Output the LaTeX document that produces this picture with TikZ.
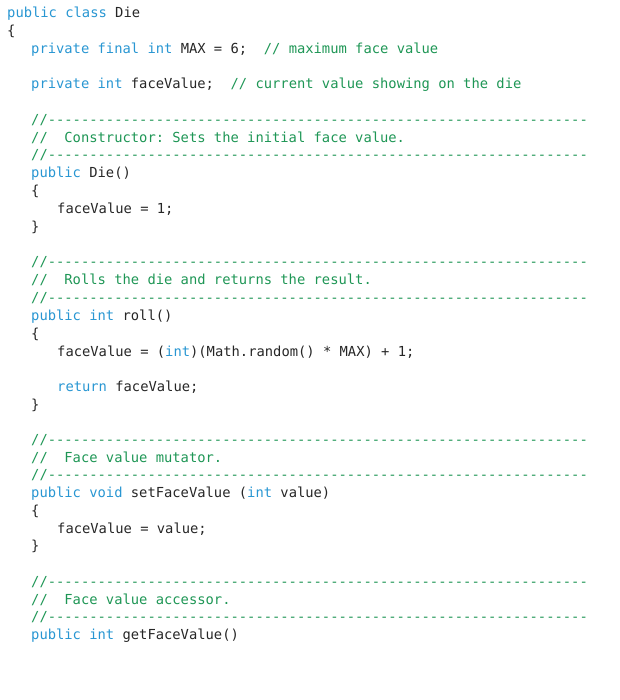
\documentclass[tikz,border=0pt]{standalone}
\usepackage{fontspec}
\setmonofont{DejaVu Sans Mono}
\definecolor{kw}{RGB}{40,150,210}
\definecolor{cm}{RGB}{30,150,85}
\newcommand{\K}[1]{\textcolor{kw}{#1}}
\newcommand{\Cm}[1]{\textcolor{cm}{#1}}
\newcommand{\Dsh}{\Cm{//-----------------------------------------------------------------}}
\begin{document}
\begin{tikzpicture}[x=1pt,y=-1pt,
  ln/.style={anchor=base west,inner sep=0pt,font=\ttfamily\fontsize{13.8}{14}\selectfont,text=black!85}]
\useasboundingbox (0,0) rectangle (619,700);
\def\b{4.5}
\node[ln] (l1) at (7,13+\b) {\K{public class} Die};
\node[ln] (l2) at (7,31+\b) {\{};
\node[ln] (l3) at (31,49+\b) {\K{private final int} MAX = 6;~~\Cm{// maximum face value}};
\node[ln] (l4) at (31,84+\b) {\K{private int} faceValue;~~\Cm{// current value showing on the die}};
\node[ln] (l5) at (31,120+\b) {\Dsh};
\node[ln] (l6) at (31,138+\b) {\Cm{//~~Constructor: Sets the initial face value.}};
\node[ln] (l7) at (31,155+\b) {\Dsh};
\node[ln] (l8) at (31,173+\b) {\K{public} Die()};
\node[ln] (l9) at (31,191+\b) {\{};
\node[ln] (l10) at (57,209+\b) {faceValue = 1;};
\node[ln] (l11) at (31,227+\b) {\}};
\node[ln] (l12) at (31,262+\b) {\Dsh};
\node[ln] (l13) at (31,280+\b) {\Cm{//~~Rolls the die and returns the result.}};
\node[ln] (l14) at (31,298+\b) {\Dsh};
\node[ln] (l15) at (31,316+\b) {\K{public int} roll()};
\node[ln] (l16) at (31,334+\b) {\{};
\node[ln] (l17) at (57,352+\b) {faceValue = (\K{int})(Math.random() * MAX) + 1;};
\node[ln] (l18) at (57,387+\b) {\K{return} faceValue;};
\node[ln] (l19) at (31,405+\b) {\}};
\node[ln] (l20) at (31,440+\b) {\Dsh};
\node[ln] (l21) at (31,458+\b) {\Cm{//~~Face value mutator.}};
\node[ln] (l22) at (31,475+\b) {\Dsh};
\node[ln] (l23) at (31,493+\b) {\K{public void} setFaceValue (\K{int} value)};
\node[ln] (l24) at (31,511+\b) {\{};
\node[ln] (l25) at (57,529+\b) {faceValue = value;};
\node[ln] (l26) at (31,546+\b) {\}};
\node[ln] (l27) at (31,582+\b) {\Dsh};
\node[ln] (l28) at (31,600+\b) {\Cm{//~~Face value accessor.}};
\node[ln] (l29) at (31,617+\b) {\Dsh};
\node[ln] (l30) at (31,635+\b) {\K{public int} getFaceValue()};
\end{tikzpicture}
\end{document}
